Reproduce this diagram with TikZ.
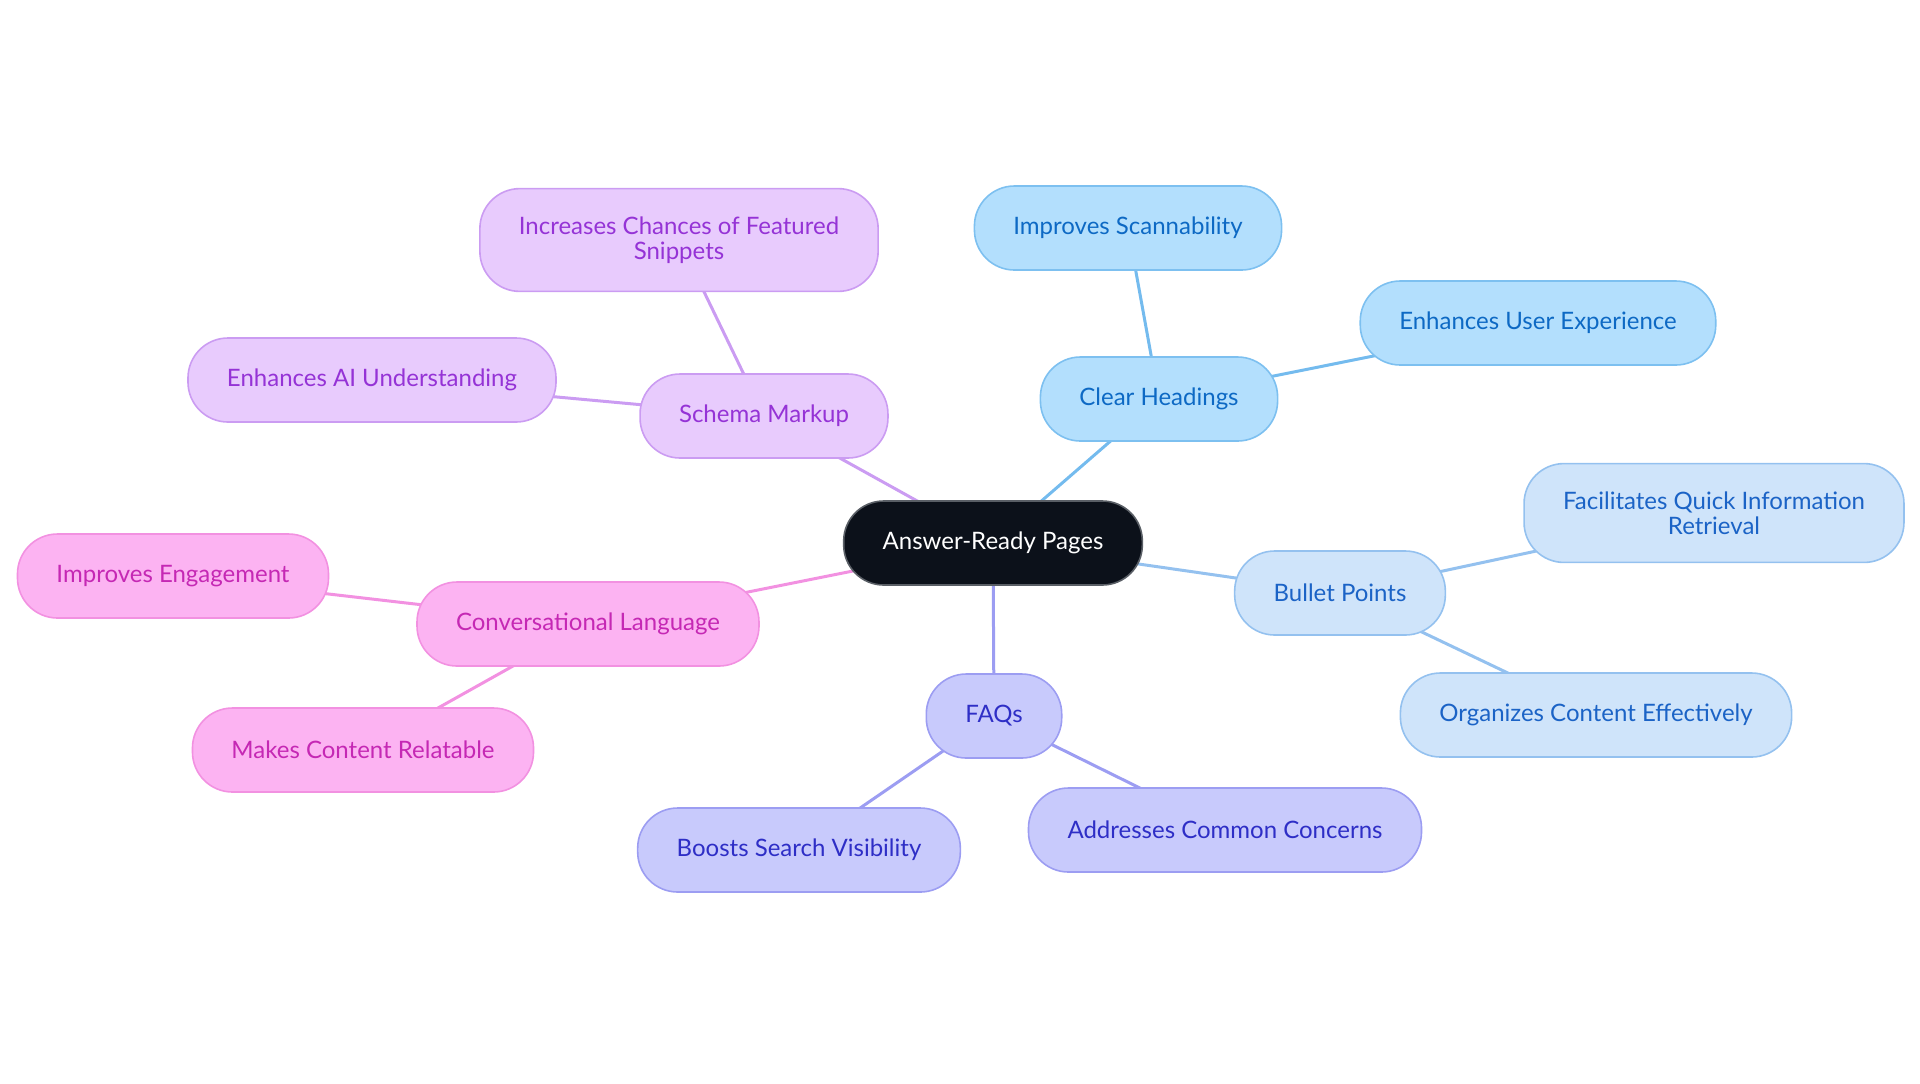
\documentclass[tikz,border=0pt]{standalone}
\usepackage{fontspec}
\setmainfont{Lato}
\usepackage{tikz}
\usetikzlibrary{positioning, calc}
\pgfdeclarelayer{background}
\pgfsetlayers{background,main}
\definecolor{rootBg}{HTML}{0C111A}
\definecolor{rootFg}{HTML}{5A5F66}
\definecolor{headBg}{HTML}{B3DFFD}
\definecolor{headFg}{HTML}{7DC0F0}
\definecolor{headText}{HTML}{0D69C4}
\definecolor{headLine}{HTML}{74BBEE}
\definecolor{bulletBg}{HTML}{CFE4FA}
\definecolor{bulletFg}{HTML}{94C1EF}
\definecolor{bulletText}{HTML}{1B63C6}
\definecolor{faqBg}{HTML}{C8CAFC}
\definecolor{faqFg}{HTML}{9C9DF2}
\definecolor{faqText}{HTML}{2E2EC6}
\definecolor{convBg}{HTML}{FCB3F2}
\definecolor{convFg}{HTML}{F291E1}
\definecolor{convText}{HTML}{C528B4}
\definecolor{schemaBg}{HTML}{E8CBFD}
\definecolor{schemaFg}{HTML}{CB9CF2}
\definecolor{schemaText}{HTML}{9533D6}
\tikzstyle{line} = [line width=1.5pt]
\tikzstyle{basic} = [rectangle, rounded corners=20pt, minimum height=42pt, inner xsep=19.5pt, inner ysep=14pt, align=center, line width=0.8pt, font=\fontsize{12pt}{12.5pt}\selectfont]
\tikzstyle{rootstyle} = [draw=rootFg, fill=rootBg, text=white]
\tikzstyle{headstyle} = [draw=headFg, fill=headBg, text=headText]
\tikzstyle{bulletstyle} = [draw=bulletFg, fill=bulletBg, text=bulletText]
\tikzstyle{faqstyle} = [draw=faqFg, fill=faqBg, text=faqText]
\tikzstyle{convstyle} = [draw=convFg, fill=convBg, text=convText]
\tikzstyle{schemastyle} = [draw=schemaFg, fill=schemaBg, text=schemaText]

\begin{document}
\begin{tikzpicture}[x=0.5pt, y=-0.5pt]

\useasboundingbox (0,0) rectangle (1920,1083);

\node (root) [basic, rootstyle] at (993,543) {Answer-Ready Pages};

\node (schema) [basic, schemastyle] at (764,416) {Schema Markup};
\node (snippets) [basic, schemastyle] at (679,240) {Increases Chances of Featured\\Snippets};
\node (aiund) [basic, schemastyle] at (372,380) {Enhances AI Understanding};

\node (headings) [basic, headstyle] at (1159,399) {Clear Headings};
\node (scan) [basic, headstyle] at (1128,228) {Improves Scannability};
\node (ux) [basic, headstyle] at (1538,323) {Enhances User Experience};

\node (bullets) [basic, bulletstyle] at (1340,593) {Bullet Points};
\node (retrieval) [basic, bulletstyle] at (1714,513) {Facilitates Quick Information\\Retrieval};
\node (organize) [basic, bulletstyle] at (1596,715) {Organizes Content Effectively};

\node (faqs) [basic, faqstyle] at (994,716) {FAQs};
\node (visibility) [basic, faqstyle] at (799,850) {Boosts Search Visibility};
\node (concerns) [basic, faqstyle] at (1225,830) {Addresses Common Concerns};

\node (conv) [basic, convstyle] at (588,624) {Conversational Language};
\node (engage) [basic, convstyle] at (173,576) {Improves Engagement};
\node (relatable) [basic, convstyle] at (363,750) {Makes Content Relatable};

\begin{pgfonlayer}{background}
\draw [line, schemaFg] (root.center) -- (schema.center);
\draw [line, schemaFg] (schema.center) -- (snippets.center);
\draw [line, schemaFg] (schema.center) -- (aiund.center);
\draw [line, headLine] (root.center) -- (headings.center);
\draw [line, headLine] (headings.center) -- (scan.center);
\draw [line, headLine] (headings.center) -- (ux.center);
\draw [line, bulletFg] (root.center) -- (bullets.center);
\draw [line, bulletFg] (bullets.center) -- (retrieval.center);
\draw [line, bulletFg] (bullets.center) -- (organize.center);
\draw [line, faqFg] (root.center) -- (faqs.center);
\draw [line, faqFg] (faqs.center) -- (visibility.center);
\draw [line, faqFg] (faqs.center) -- (concerns.center);
\draw [line, convFg] (root.center) -- (conv.center);
\draw [line, convFg] (conv.center) -- (engage.center);
\draw [line, convFg] (conv.center) -- (relatable.center);
\end{pgfonlayer}

\end{tikzpicture}
\end{document}
